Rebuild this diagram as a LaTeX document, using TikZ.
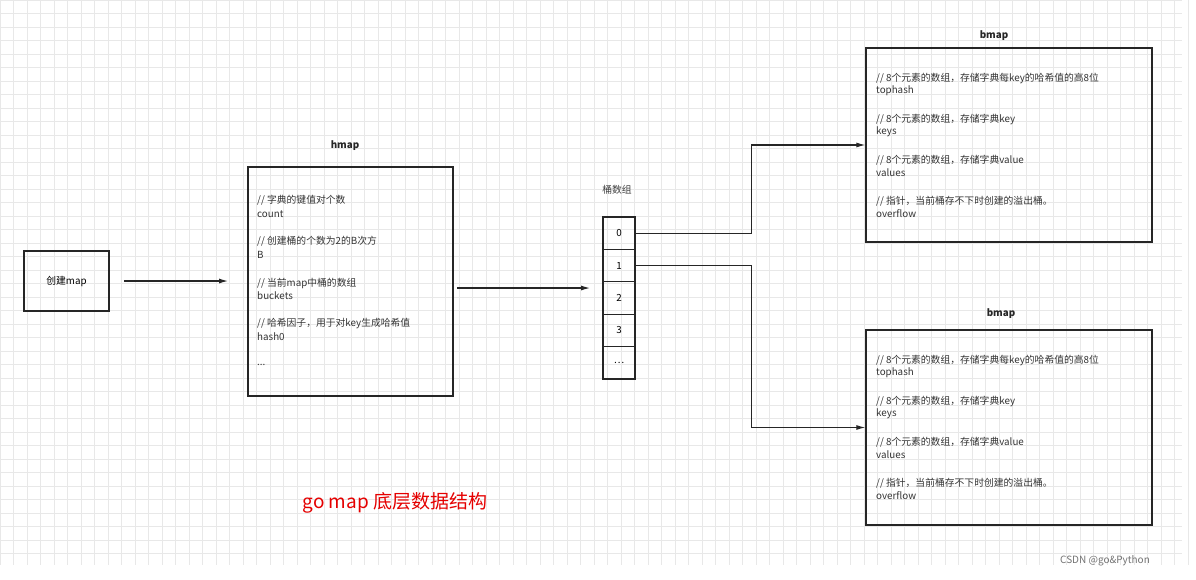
\documentclass[tikz,border=0pt]{standalone}
\usepackage{fontspec}
\setmainfont{Noto Sans CJK SC}
\usetikzlibrary{arrows.meta}
\begin{document}
\begin{tikzpicture}[x=1pt,y=-1pt,
  box/.style={draw=black!85,line width=1.2pt},
  txt/.style={anchor=west,font=\fontsize{9.8}{10}\selectfont,text=black!80,inner sep=0},
  lab/.style={font=\fontsize{9.8}{10}\selectfont\bfseries,text=black!85},
  conn/.style={draw=black!85,line width=1.1pt,-{Latex[length=9pt,width=5pt]}}]
\fill[white] (0,0) rectangle (1196,579);
\useasboundingbox (0,0) rectangle (1196,579);
\foreach \g in {0,13.5,...,1190}{\draw[black!9,line width=0.6pt] (\g,0) -- (\g,565);}
\foreach \g in {0,13.5,...,565}{\draw[black!9,line width=0.6pt] (0,\g) -- (1182,\g);}
% create map
\node[box,minimum width=85pt,minimum height=60pt,font=\fontsize{9.8}{10}\selectfont] (c) at (66.5,281) {创建map};
\coordinate (a1) at (124,281);
\coordinate (a2) at (228,281);
\draw[conn] (a1) -- (a2);
% hmap
\node[box,minimum width=205pt,minimum height=229pt] (h) at (350.5,281.5) {};
\node[lab] at (345,146) {hmap};
\node[txt] at (257,200) {// 字典的键值对个数};
\node[txt] at (257,214) {count};
\node[txt] at (257,241) {// 创建桶的个数为2的B次方};
\node[txt] at (257,255) {B};
\node[txt] at (257,283) {// 当前map中桶的数组};
\node[txt] at (257,296) {buckets};
\node[txt] at (257,324) {// 哈希因子，用于对key生成哈希值};
\node[txt] at (257,337) {hash0};
\node[txt] at (257,365) {...};
\coordinate (b1) at (457,288);
\coordinate (b2) at (590,288);
\draw[conn] (b1) -- (b2);
% buckets
\node[font=\fontsize{9.8}{10}\selectfont,text=black!75] at (617,190) {桶数组};
\foreach \i/\t in {0/0,1/1,2/2,3/3,4/\ldots}{
  \node[box,minimum width=32pt,minimum height=32.4pt,font=\fontsize{9.8}{10}\selectfont,inner sep=0] (k\i) at (619,233.2+32.4*\i) {\t};
}
% bmaps
\node[box,minimum width=286pt,minimum height=194pt] (m1) at (1009,145) {};
\node[lab] at (994,36) {bmap};
\node[box,minimum width=286pt,minimum height=195pt] (m2) at (1009,427.5) {};
\node[lab] at (1001,314) {bmap};
\foreach \y in {0,282}{
\node[txt] at (876,78+\y) {// 8个元素的数组，存储字典每key的哈希值的高8位};
\node[txt] at (876,91+\y) {tophash};
\node[txt] at (876,119+\y) {// 8个元素的数组，存储字典key};
\node[txt] at (876,132+\y) {keys};
\node[txt] at (876,160+\y) {// 8个元素的数组，存储字典value};
\node[txt] at (876,173+\y) {values};
\node[txt] at (876,201+\y) {// 指针，当前桶存不下时创建的溢出桶。};
\node[txt] at (876,214+\y) {overflow};
}
\draw[conn] (k0.east) -- ++(116,0) |- (m1.west);
\draw[conn] (k1.east) -- ++(116,0) |- (m2.west);
\node[text=red!90!black,font=\fontsize{19}{20}\selectfont] (t) at (395,503) {go map 底层数据结构};
\node[text=black!55,font=\fontsize{10}{10}\selectfont] (w) at (1105,561) {CSDN @go\&Python};
\end{tikzpicture}
\end{document}
